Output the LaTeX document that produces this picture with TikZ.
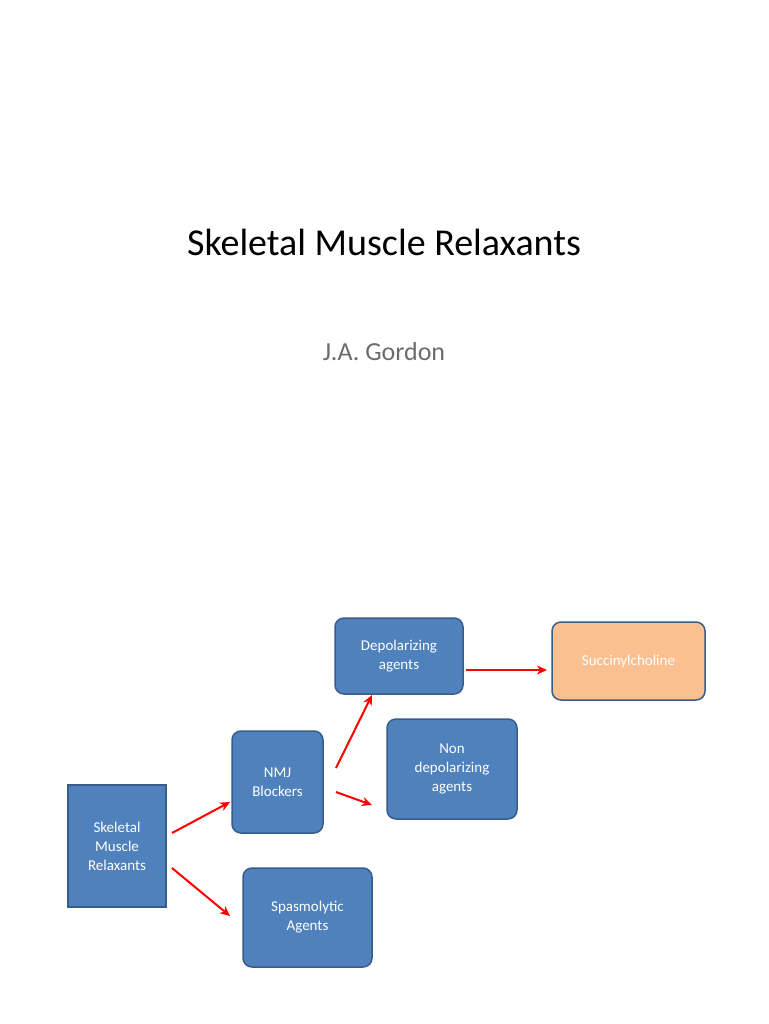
\documentclass[tikz,border=0pt]{standalone}
\usepackage{fontspec}
\setmainfont{Carlito}
\usetikzlibrary{arrows.meta}
\definecolor{boxblue}{HTML}{4F81BD}
\definecolor{boxedge}{HTML}{385D8A}
\definecolor{peach}{HTML}{FAC090}
\begin{document}
\begin{tikzpicture}[x=1pt,y=-1pt,
  box/.style={draw=boxedge,line width=1.5pt,fill=boxblue,text=white,align=center,font=\fontsize{15}{19}\selectfont,inner sep=0pt},
  rbox/.style={box,rounded corners=9pt},
  arr/.style={draw=red,line width=2pt,-{Stealth[length=10pt,width=9pt,inset=3pt]}}]
\useasboundingbox (0,0) rectangle (768,1024);
\fill[white] (0,0) rectangle (768,1024);
\node[font=\fontsize{38}{44}\selectfont] (title) at (384,242) {Skeletal Muscle Relaxants};
\node[font=\fontsize{26}{30}\selectfont,text=gray!85!black] (author) at (384,352) {J.A. Gordon};
\node[box,minimum width=98pt,minimum height=122pt] (sk) at (117,846) {Skeletal\\Muscle\\Relaxants};
\node[rbox,minimum width=91pt,minimum height=102pt] (nmj) at (277.5,782) {NMJ\\Blockers};
\node[rbox,minimum width=129pt,minimum height=99pt] (sp) at (307.5,917.5) {Spasmolytic\\Agents};
\node[rbox,minimum width=128pt,minimum height=76pt] (dep) at (399,656) {Depolarizing\\agents};
\node[rbox,minimum width=130pt,minimum height=100pt] (non) at (452,769) {Non\\depolarizing\\agents};
\node[rbox,fill=peach,minimum width=153pt,minimum height=78pt] (suc) at (628.5,661) {Succinylcholine};
\coordinate (a1) at (172,833); \coordinate (b1) at (230,802);
\coordinate (a2) at (172,868); \coordinate (b2) at (230,916);
\coordinate (a3) at (336,768); \coordinate (b3) at (372,695);
\coordinate (a4) at (336,792); \coordinate (b4) at (372,805);
\coordinate (a5) at (466,670); \coordinate (b5) at (547,670);
\draw[arr] (a1) -- (b1);
\draw[arr] (a2) -- (b2);
\draw[arr] (a3) -- (b3);
\draw[arr] (a4) -- (b4);
\draw[arr] (a5) -- (b5);
\end{tikzpicture}
\end{document}
